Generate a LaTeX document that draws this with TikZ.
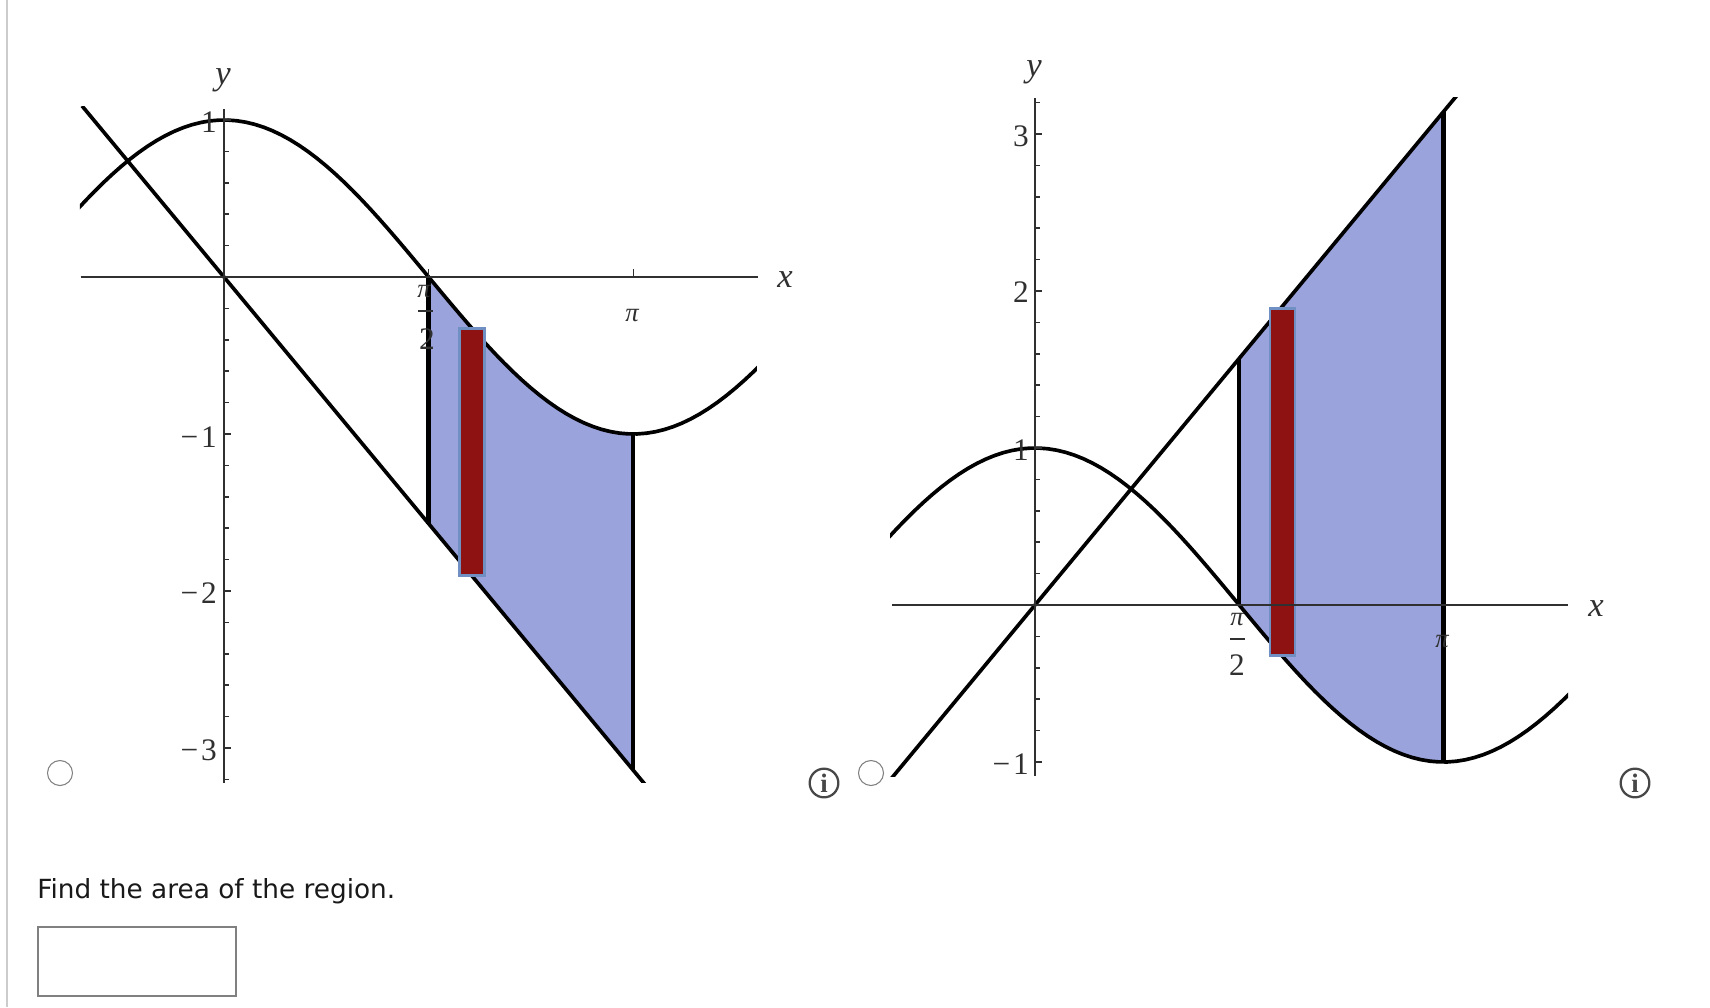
\documentclass[tikz,border=0pt]{standalone}
\usepackage{fontspec}
\newfontfamily\promptfont{DejaVu Sans}
\newfontfamily\plotfont{Liberation Serif}
\definecolor{regionfill}{HTML}{9AA3DB}
\definecolor{stripfill}{HTML}{8F1212}
\definecolor{stripedge}{HTML}{7090C4}
\definecolor{axisgray}{HTML}{303030}
\tikzset{
	plot left/.style={shift={(224,277)},x=97.7pt,y=-117.75pt},
	plot right/.style={shift={(1035,605)},x=97.5pt,y=-117.75pt},
	region/.style={fill=regionfill,draw=none},
	curve/.style={black,line width=2.75pt,samples=80},
	bound/.style={black,line width=3.2pt},
	axis/.style={axisgray,line width=1.5pt},
	tick/.style={axisgray,line width=1.1pt},
	strip/.style={fill=stripfill,draw=stripedge,line width=2.1pt},
	ticklabel/.style={text=axisgray,inner sep=0pt,font=\plotfont\fontsize{23.5}{23.5}\selectfont},
	axislabel/.style={text=axisgray,inner sep=0pt,font=\plotfont\itshape\fontsize{26}{26}\selectfont},
	pilabel/.style={text=axisgray,inner sep=0pt,font=\plotfont\itshape\fontsize{20}{20}\selectfont},
	fracbar/.style={axisgray,line width=1.1pt},
	radiobtn/.style={circle,draw=gray,line width=0.8pt,minimum size=18.75pt,inner sep=0pt},
	infobtn/.style={circle,draw=black!72,line width=1.7pt,minimum size=21.5pt,inner sep=0pt,text=black!72,font=\plotfont\bfseries\fontsize{20}{20}\selectfont},
	answerbox/.style={rectangle,draw=gray,line width=1.5pt,minimum width=148.5pt,minimum height=51.75pt,inner sep=0pt}
}

\begin{document}
\begin{tikzpicture}[x=0.75pt,y=0.75pt,yscale=-1,xscale=1]
	\useasboundingbox[fill=white] (0,0) rectangle (1710,1007);

	%Straight Lines: page edge
	\draw [black!20,line width=1.9pt] (7,0) -- (7,1007) ;

	%Shape: left plot
	\begin{scope}[plot left]
		\fill [region] plot[domain=pi/2:pi,samples=40] (\x,{cos(\x r)}) -- (pi,-pi) -- (pi/2,-pi/2) -- cycle ;
		\begin{scope}
			\clip (-1.107,1.083) rectangle (4.09,-3.22);
			\draw [curve] plot[domain=-1.2:4.2] (\x,{cos(\x r)}) ;
			\draw [curve] (-1.09,1.09) -- (3.4,-3.4) ;
		\end{scope}
		\draw [bound] (pi/2,0) -- (pi/2,-pi/2) ;
		\draw [bound] (pi,-1) -- (pi,-pi) ;
		\foreach \t in {-16,...,5} \draw [tick] (0,{\t/5}) -- ++(3.75pt,0) ;
		\foreach \t in {-3,...,1} \draw [tick] (0,\t) -- ++(5.25pt,0) ;
		\draw [tick] (pi/2,0) -- ++(0,-6pt) ;
		\draw [tick] (pi,0) -- ++(0,-6pt) ;
		\draw [axis] (0,-3.22) -- (0,1.07) ;
		\draw [axis] (-1.1,0) -- (4.1,0) ;
		\draw [strip] (1.808,-0.33) rectangle (2.0,-1.9) ;
	\end{scope}

	%Shape: right plot
	\begin{scope}[plot right]
		\fill [region] (pi/2,pi/2) -- (pi,pi) -- plot[domain=pi:pi/2,samples=40] (\x,{cos(\x r)}) -- cycle ;
		\begin{scope}
			\clip (-1.115,3.235) rectangle (4.1,-1.09);
			\draw [curve] plot[domain=-1.2:4.2] (\x,{cos(\x r)}) ;
			\draw [curve] (-1.2,-1.2) -- (3.3,3.3) ;
		\end{scope}
		\draw [bound] (pi/2,pi/2) -- (pi/2,0) ;
		\draw [bound] (pi,pi) -- (pi,-1) ;
		\foreach \t in {-5,...,16} \draw [tick] (0,{\t/5}) -- ++(3.75pt,0) ;
		\foreach \t in {-1,...,3} \draw [tick] (0,\t) -- ++(5.25pt,0) ;
		\draw [axis] (0,-1.09) -- (0,3.23) ;
		\draw [strip] (1.808,1.89) rectangle (2.0,-0.32) ;
		\draw [axis] (-1.097,0) -- (4.1,0) ;
	\end{scope}

	% Text Node
	\node [axislabel] (ylabelL) at (223,80) {y};
	\node [axislabel] (xlabelL) at (785,280) {x};
	\node [ticklabel,anchor=east] (oneL) at (217,122) {1};
	\node [ticklabel,anchor=east] (minusoneL) at (217,437) {−\kern2pt 1};
	\node [ticklabel,anchor=east] (minustwoL) at (217,593) {−\kern2pt 2};
	\node [ticklabel,anchor=east] (minusthreeL) at (217,750) {−\kern2pt 3};
	\node [pilabel] (numerL) at (424,292) {π};
	\node [ticklabel] (denomL) at (427,339) {2};
	\draw [fracbar] (418,311) -- (433,311) ;
	\node [pilabel] (piL) at (632,316) {π};

	% Text Node
	\node [axislabel] (ylabelR) at (1034,72) {y};
	\node [axislabel] (xlabelR) at (1596,609) {x};
	\node [ticklabel,anchor=east] (threeR) at (1029,136) {3};
	\node [ticklabel,anchor=east] (twoR) at (1029,292) {2};
	\node [ticklabel,anchor=east] (oneR) at (1029,450) {1};
	\node [ticklabel,anchor=east] (minusoneR) at (1029,764) {−\kern2pt 1};
	\node [pilabel] (numerR) at (1237,620) {π};
	\node [ticklabel] (denomR) at (1237,665) {2};
	\draw [fracbar] (1230,639) -- (1245,639) ;
	\node [pilabel] (piR) at (1442,641) {π};

	%Shape: answer widgets
	\node [radiobtn] (radioL) at (60,773) {};
	\node [radiobtn] (radioR) at (871,773) {};
	\node [infobtn] (infoL) at (824,783) {i};
	\node [infobtn] (infoR) at (1635,783) {i};
	\node [anchor=base west,inner sep=0pt,text=black!90] (prompt) at (37,898.5) {\promptfont\fontsize{19.75}{24}\selectfont Find the area of the region.};
	\node [answerbox] (answer) at (137,961) {};
\end{tikzpicture}
\end{document}
